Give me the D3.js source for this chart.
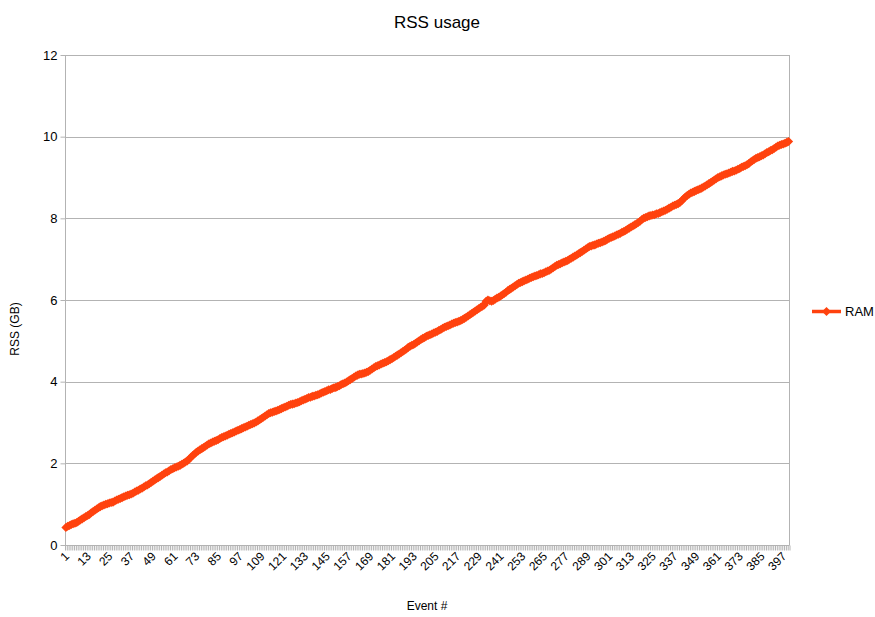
<!DOCTYPE html>
<html>
<head>
<meta charset="utf-8">
<script src="https://cdn.jsdelivr.net/npm/d3@7"></script>
<style>
  body { margin: 0; background: #fff; }
  text { font-family: "Liberation Sans", Arial, sans-serif; }
  .axis path, .axis line { stroke: #b3b3b3; }
  .axis text { fill: #000; }
</style>
</head>
<body>
<div id="chart"></div>
<script>
// series values, one per event
var ramValues = [
  0.43, 0.46, 0.48, 0.50, 0.52, 0.53, 0.55, 0.58, 0.61, 0.64,
  0.67, 0.70, 0.72, 0.75, 0.79, 0.82, 0.85, 0.88, 0.91, 0.94,
  0.96, 0.98, 1.00, 1.01, 1.03, 1.04, 1.05, 1.08, 1.10, 1.12,
  1.14, 1.16, 1.18, 1.20, 1.22, 1.23, 1.25, 1.27, 1.30, 1.32,
  1.34, 1.37, 1.39, 1.42, 1.45, 1.47, 1.50, 1.53, 1.56, 1.59,
  1.62, 1.65, 1.68, 1.71, 1.74, 1.77, 1.79, 1.82, 1.85, 1.87,
  1.89, 1.91, 1.93, 1.95, 1.98, 2.00, 2.03, 2.06, 2.10, 2.15,
  2.19, 2.23, 2.27, 2.30, 2.33, 2.36, 2.39, 2.42, 2.45, 2.48,
  2.50, 2.52, 2.54, 2.56, 2.58, 2.61, 2.63, 2.65, 2.67, 2.69,
  2.71, 2.73, 2.75, 2.77, 2.79, 2.81, 2.83, 2.85, 2.87, 2.89,
  2.91, 2.93, 2.95, 2.97, 2.99, 3.01, 3.04, 3.07, 3.10, 3.13,
  3.16, 3.19, 3.22, 3.24, 3.25, 3.27, 3.28, 3.30, 3.32, 3.34,
  3.36, 3.38, 3.40, 3.42, 3.44, 3.45, 3.46, 3.48, 3.49, 3.51,
  3.53, 3.55, 3.57, 3.59, 3.61, 3.62, 3.64, 3.65, 3.67, 3.68,
  3.70, 3.72, 3.74, 3.76, 3.78, 3.80, 3.81, 3.83, 3.85, 3.86,
  3.88, 3.90, 3.93, 3.95, 3.97, 3.99, 4.02, 4.05, 4.08, 4.11,
  4.14, 4.16, 4.18, 4.19, 4.20, 4.21, 4.23, 4.25, 4.28, 4.31,
  4.34, 4.37, 4.39, 4.41, 4.43, 4.45, 4.47, 4.49, 4.51, 4.54,
  4.56, 4.59, 4.62, 4.65, 4.68, 4.71, 4.74, 4.77, 4.80, 4.84,
  4.87, 4.89, 4.91, 4.94, 4.97, 5.00, 5.03, 5.06, 5.08, 5.11,
  5.13, 5.15, 5.17, 5.19, 5.21, 5.23, 5.26, 5.28, 5.31, 5.33,
  5.35, 5.37, 5.39, 5.41, 5.43, 5.45, 5.46, 5.48, 5.50, 5.52,
  5.55, 5.58, 5.61, 5.64, 5.67, 5.70, 5.73, 5.76, 5.79, 5.82,
  5.85, 5.88, 5.97, 6.00, 5.98, 5.97, 5.99, 6.02, 6.05, 6.07,
  6.10, 6.13, 6.16, 6.19, 6.23, 6.26, 6.29, 6.32, 6.35, 6.38,
  6.41, 6.43, 6.45, 6.47, 6.49, 6.51, 6.53, 6.55, 6.57, 6.59,
  6.60, 6.62, 6.64, 6.65, 6.67, 6.69, 6.71, 6.73, 6.76, 6.79,
  6.82, 6.85, 6.87, 6.89, 6.91, 6.93, 6.95, 6.97, 7.00, 7.02,
  7.05, 7.08, 7.10, 7.13, 7.16, 7.19, 7.22, 7.25, 7.28, 7.31,
  7.32, 7.34, 7.35, 7.37, 7.39, 7.40, 7.42, 7.44, 7.46, 7.49,
  7.51, 7.53, 7.55, 7.57, 7.59, 7.61, 7.63, 7.66, 7.68, 7.70,
  7.73, 7.76, 7.79, 7.81, 7.84, 7.87, 7.90, 7.93, 7.97, 8.00,
  8.02, 8.04, 8.06, 8.07, 8.08, 8.09, 8.11, 8.12, 8.14, 8.16,
  8.18, 8.20, 8.22, 8.25, 8.27, 8.30, 8.32, 8.34, 8.36, 8.39,
  8.43, 8.48, 8.52, 8.56, 8.59, 8.62, 8.64, 8.66, 8.68, 8.70,
  8.72, 8.74, 8.77, 8.79, 8.82, 8.85, 8.88, 8.91, 8.94, 8.97,
  9.00, 9.02, 9.04, 9.06, 9.08, 9.09, 9.11, 9.13, 9.15, 9.16,
  9.18, 9.20, 9.22, 9.25, 9.27, 9.29, 9.31, 9.34, 9.38, 9.41,
  9.44, 9.47, 9.49, 9.51, 9.53, 9.55, 9.58, 9.61, 9.63, 9.66,
  9.68, 9.71, 9.74, 9.77, 9.79, 9.81, 9.82, 9.84, 9.86, 9.88
];

// categories are the event numbers 1..400
var events = ramValues.map((v, i) => i + 1);
var yTicks = [0, 2, 4, 6, 8, 10, 12];
var xLabelEvery = 12;

var seriesName = "RAM";
var lineColor = "#ff420e";

const margin = { top: 55, right: 85.5, bottom: 72, left: 65 },
    width = 875,
    height = 617

var svg = d3.select("#chart").append("svg")
  .attr("width", width)
  .attr("height", height);

var x = d3.scaleBand()
  .domain(events)
  .range([margin.left, width - margin.right])
  .padding(0);

var y = d3.scaleLinear()
  .domain([0, 12])
  .range([height - margin.bottom, margin.top]);

var xc = d => x(d) + x.bandwidth() / 2;

// horizontal grid
svg.append('g')
  .selectAll('line')
  .data(yTicks)
  .enter()
  .append('line')
  .attr('x1', margin.left)
  .attr('x2', width - margin.right)
  .attr('y1', d => Math.round(y(d)) + 0.5)
  .attr('y2', d => Math.round(y(d)) + 0.5)
  .attr('stroke', '#b3b3b3');

// right border of the plot
svg.append('line')
  .attr('x1', width - margin.right)
  .attr('x2', width - margin.right)
  .attr('y1', y(12))
  .attr('y2', y(0))
  .attr('stroke', '#b3b3b3');

// y axis
var yAxis = d3.axisLeft(y)
  .tickValues(yTicks)
  .tickSize(5)
  .tickPadding(3)
  .tickFormat(d3.format('d'));

svg.append('g')
  .attr('class', 'axis')
  .attr('transform', `translate(${margin.left + 0.5}, 0)`)
  .call(yAxis)
  .call(g => g.selectAll('text').style('font-size', '13px'))
  .call(g => g.select('.domain').attr('d', `M0,${y(12)}V${y(0)}`));

// x axis: tick on every category boundary, label every 12th
var xTickScale = d3.scaleLinear()
  .domain([0, events.length])
  .range([margin.left, width - margin.right]);

svg.append('g')
  .attr('class', 'axis')
  .attr('transform', `translate(0, ${Math.round(y(0)) + 0.5})`)
  .call(d3.axisBottom(xTickScale)
    .tickValues(d3.range(events.length + 1))
    .tickSize(5)
    .tickFormat(''))
  .call(g => g.select('.domain').attr('d', `M${margin.left},0H${width - margin.right}`));

svg.append('g')
  .selectAll('text')
  .data(events.filter(d => (d - 1) % xLabelEvery === 0))
  .enter()
  .append('text')
  .attr('transform', d => `translate(${xc(d) + 1}, ${y(0) + 9}) rotate(-45)`)
  .style('text-anchor', 'end')
  .style('font-size', '12px')
  .attr('dy', '0.35em')
  .text(d => d);

// the line
var line = d3.line()
  .x((d, i) => xc(events[i]))
  .y(d => y(d));

svg.append('path')
  .datum(ramValues)
  .attr('fill', 'none')
  .attr('stroke', lineColor)
  .attr('stroke-width', 3.5)
  .attr('stroke-linejoin', 'round')
  .attr('d', line);

// diamond markers
var diamond = d3.symbol().type(d3.symbolDiamond2).size(52);

svg.append('g')
  .selectAll('path')
  .data(ramValues)
  .enter()
  .append('path')
  .attr('transform', (d, i) => `translate(${xc(events[i])}, ${y(d)})`)
  .attr('d', diamond)
  .attr('fill', lineColor);

// titles
svg.append('text')
  .attr('x', 437)
  .attr('y', 28)
  .style('text-anchor', 'middle')
  .style('font-size', '17px')
  .text('RSS usage');

svg.append('text')
  .attr('transform', 'translate(19, 329) rotate(-90)')
  .style('text-anchor', 'middle')
  .style('font-size', '12px')
  .text('RSS (GB)');

svg.append('text')
  .attr('x', 427)
  .attr('y', 610)
  .style('text-anchor', 'middle')
  .style('font-size', '12px')
  .text('Event #');

// legend
var legend = svg.append('g')
  .attr('transform', 'translate(812, 311.5)');

legend.append('line')
  .attr('x1', 0)
  .attr('x2', 29)
  .attr('stroke', lineColor)
  .attr('stroke-width', 3.5);

legend.append('path')
  .attr('transform', 'translate(14.5, 0)')
  .attr('d', diamond)
  .attr('fill', lineColor);

legend.append('text')
  .attr('x', 33)
  .attr('dy', '0.35em')
  .style('font-size', '13px')
  .text(seriesName);
</script>
</body>
</html>
